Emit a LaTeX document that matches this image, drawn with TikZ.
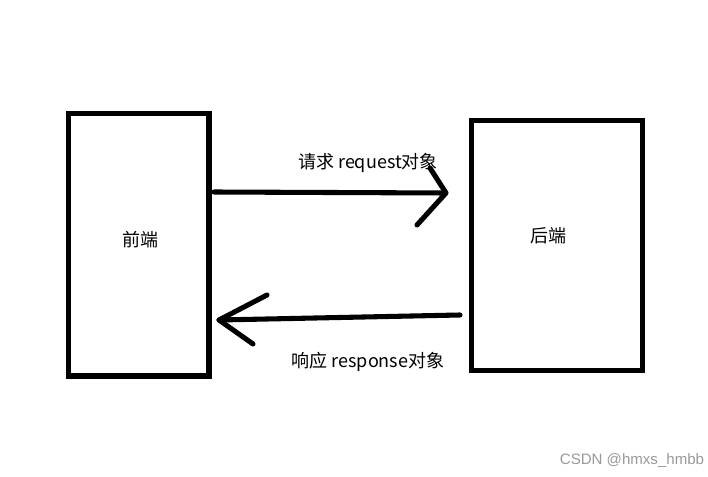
\documentclass[tikz,border=0pt]{standalone}
\usepackage{fontspec}
\setmainfont{Liberation Sans}
\newfontfamily\cjk{Noto Sans CJK SC}
\begin{document}
\begin{tikzpicture}[x=0.75pt,y=-0.75pt,
  box/.style={draw=black,line width=3.8pt,inner sep=0pt},
  stroke/.style={draw=black,line width=3.8pt,line cap=round,line join=round},
  lbl/.style={font=\cjk\fontsize{13.5}{15}\selectfont,inner sep=0pt}]
\useasboundingbox (0,0) rectangle (708,477);
\node[box,minimum width=140.5*0.75pt,minimum height=262.5*0.75pt] (fe) at (138.75,244.75) {};
\node[box,minimum width=171*0.75pt,minimum height=250*0.75pt] (be) at (557,245.5) {};
\node[lbl] (fet) at (140,240) {前端};
\node[lbl] (bet) at (548,236) {后端};
% request arrow
\coordinate (rqs) at (214,192);
\coordinate (rqt) at (446,193);
\coordinate (rqu) at (430,168);
\coordinate (rql) at (417,225);
\draw[stroke] (rqs) -- (rqt);
\draw[stroke] (rqu) -- (rqt) -- (rql);
% response arrow
\coordinate (rss) at (460,315);
\coordinate (rst) at (219,320);
\coordinate (rsu) at (267,295);
\coordinate (rsl) at (253,344);
\draw[stroke] (rss) -- (rst);
\draw[stroke] (rsu) -- (rst) -- (rsl);
\node[lbl] (rqlab) at (368,163) {请求 request对象};
\node[lbl] (rslab) at (368,362) {响应 response对象};
\node[font=\fontsize{11.3}{13}\selectfont,text=black!40,inner sep=0pt] (wm) at (632,461) {CSDN @hmxs\_hmbb};
\end{tikzpicture}
\end{document}
